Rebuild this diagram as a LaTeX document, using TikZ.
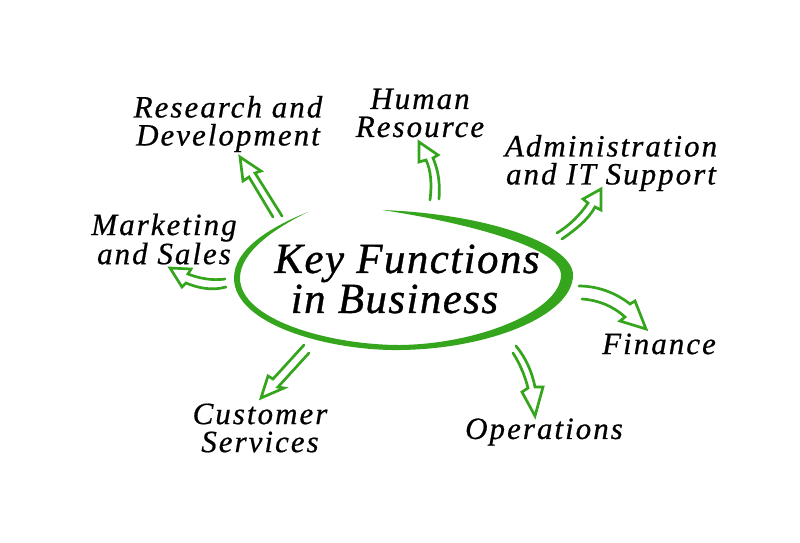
\documentclass[tikz,border=0pt]{standalone}
\usepackage{fontspec}
\setmainfont{Liberation Serif}
\newfontfamily\handlab[LetterSpace=6.5,FakeBold=0.6]{Liberation Serif Italic}
\newfontfamily\handhero[LetterSpace=3.3,FakeBold=0.8]{Liberation Serif Italic}
\definecolor{grn}{RGB}{52,165,28}
\begin{document}
\begin{tikzpicture}[x=1pt,y=-1pt,
  lab/.style={font=\handlab\fontsize{31}{28}\selectfont,align=center,text=black,inner sep=0pt},
  hero/.style={font=\handhero\fontsize{43}{39}\selectfont,align=center,text=black,inner sep=0pt},
  arr/.style={draw=grn,line width=2.7pt,line join=miter,line cap=round,fill=none}]
\useasboundingbox[fill=white] (0,0) rectangle (800,542);
% ring
\fill[grn] (308,212) .. controls (268,228) and (234,250) .. (234,278)
  .. controls (234,325) and (330,351) .. (400,350)
  .. controls (490,349) and (573,315) .. (573,275)
  .. controls (573,245) and (490,214) .. (382,210)
  .. controls (450,220) and (561,245) .. (561,275)
  .. controls (561,310) and (480,344) .. (400,345)
  .. controls (330,345) and (240,320) .. (240,278)
  .. controls (240,252) and (275,228) .. (308,212) -- cycle;
% labels
\node[hero] (key) at (407,279) {Key Functions\\[1pt]in Business\hspace*{25pt}};
\node[lab] (rd) at (228,124) {Research and\\Development};
\node[lab] (hr) at (420,113) {Human\\Resource};
\node[lab] (adm) at (611,163) {Administration\\and IT Support};
\node[lab] (mkt) at (164,239) {Marketing\\and Sales};
\node[lab] (fin) at (659,344) {Finance};
\node[lab] (ops) at (544,432) {Operations};
\node[lab] (cus) at (260,428) {Customer\\Services};
% arrows
\coordinate (rdtip) at (240,157);
\draw[arr] (273,217) -- (249,177) -- (243,181) -- (rdtip) -- (261,171) -- (255,173) -- (282,216);
\coordinate (mkttip) at (170,268);
\draw[arr] (225,279) .. controls (212,281) and (198,278) .. (188,274) -- (191,269) -- (mkttip) -- (182,287) -- (186,283) .. controls (198,288) and (212,291) .. (226,287);
\coordinate (hrtip) at (419,142);
\draw[arr] (430,200) .. controls (432,185) and (431,170) .. (426,160) -- (419,162) -- (hrtip) -- (438,155) -- (433,158) .. controls (439,172) and (440,185) .. (439,199);
\coordinate (admtip) at (601,189);
\draw[arr] (557,233) .. controls (570,225) and (580,215) .. (588,203) -- (583,199) -- (admtip) -- (601,210) -- (595,207) .. controls (588,220) and (575,230) .. (562,239);
\coordinate (fintip) at (646,329);
\draw[arr] (579,286) .. controls (598,286) and (616,293) .. (630,304) -- (635,301) -- (fintip) -- (620,321) -- (625,317) .. controls (613,306) and (598,300) .. (582,299);
\coordinate (opstip) at (535,416);
\draw[arr] (516,346) .. controls (526,358) and (532,372) .. (535,387) -- (543,387) -- (opstip) -- (522,392) -- (528,388) .. controls (525,376) and (520,364) .. (513,353);
\coordinate (custip) at (261,398);
\draw[arr] (304,345) -- (273,379) -- (268,376) -- (custip) -- (284,388) -- (278,387) -- (309,353);
\end{tikzpicture}
\end{document}
